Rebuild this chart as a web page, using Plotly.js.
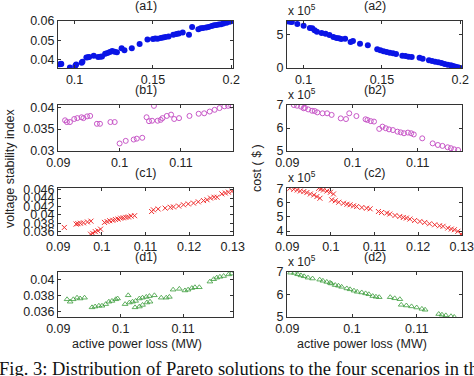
<!DOCTYPE html>
<html><head><meta charset="utf-8">
<script src="https://cdn.plot.ly/plotly-3.0.1.min.js"></script>
<style>body{margin:0;padding:0;background:#fff}#c{width:474px;height:376px}</style>
</head><body><div id="c"></div>
<script>
// (a1) voltage stability index vs loss
const a1x=[0.0905,0.0912,0.0915,0.0970,0.1005,0.1010,0.1045,0.1050,0.1075,0.1085,0.1093,0.1122,0.1150,0.1165,0.1175,0.1195,0.1210,0.1225,0.1240,0.1255,0.1270,0.1300,0.1318,0.1365,0.1415,0.1465,0.1500,0.1515,0.1530,0.1550,0.1565,0.1580,0.1600,0.1630,0.1650,0.1665,0.1690,0.1730,0.1750,0.1790,0.1805,0.1820,0.1840,0.1855,0.1875,0.1890,0.1905,0.1920,0.1935,0.1950,0.1970,0.1990,0.2000];
const a1y=[0.0377,0.0380,0.0378,0.0361,0.0370,0.0376,0.0385,0.0390,0.0412,0.0413,0.0415,0.0421,0.0415,0.0416,0.0417,0.0432,0.0436,0.0441,0.0446,0.0442,0.0439,0.0460,0.0450,0.0460,0.0482,0.0505,0.0507,0.0510,0.0509,0.0513,0.0515,0.0518,0.0521,0.0530,0.0533,0.0536,0.0541,0.0530,0.0570,0.0558,0.0563,0.0565,0.0567,0.0570,0.0575,0.0578,0.0580,0.0582,0.0584,0.0588,0.0592,0.0596,0.0600];
// (a2) cost (x1e5) vs loss
const a2x=[0.0900,0.0908,0.0915,0.0925,0.0960,0.1000,0.1040,0.1055,0.1070,0.1085,0.1115,0.1140,0.1165,0.1190,0.1210,0.1225,0.1240,0.1265,0.1300,0.1315,0.1360,0.1410,0.1470,0.1490,0.1510,0.1530,0.1550,0.1570,0.1590,0.1630,0.1650,0.1670,0.1690,0.1740,0.1760,0.1800,0.1820,0.1840,0.1860,0.1880,0.1900,0.1920,0.1940,0.1955,0.1970,0.1985,0.2000];
const a2y=[7.00,7.00,6.95,6.90,6.60,6.35,6.00,5.95,5.65,5.45,5.25,5.15,4.95,4.65,4.50,4.45,4.35,4.40,3.90,4.05,3.65,3.40,2.80,2.65,2.50,2.40,2.30,2.20,2.10,1.85,1.80,1.70,1.65,1.55,1.40,1.15,1.05,0.95,0.85,0.75,0.60,0.50,0.40,0.30,0.20,0.10,0.00];
// (b1)
const b1x=[0.0911,0.0914,0.0919,0.0926,0.0931,0.0938,0.0941,0.0947,0.0952,0.0963,0.0968,0.0985,0.0992,0.1000,0.1010,0.1023,0.1028,0.1037,0.1044,0.1048,0.1053,0.1056,0.1062,0.1067,0.1070,0.1077,0.1084,0.1089,0.1097,0.1114,0.1129,0.1138,0.1147,0.1155,0.1163,0.1171,0.1177,0.1182];
const b1y=[0.0370,0.0366,0.0366,0.0373,0.0375,0.0377,0.0375,0.0379,0.0380,0.0362,0.0362,0.0366,0.0366,0.0317,0.0323,0.0326,0.0328,0.0330,0.0377,0.0368,0.0369,0.0403,0.0369,0.0371,0.0375,0.0380,0.0383,0.0373,0.0375,0.0380,0.0385,0.0386,0.0390,0.0394,0.0398,0.0402,0.0403,0.0404];
// (b2)
const b2x=[0.0910,0.0915,0.0921,0.0925,0.0927,0.0932,0.0938,0.0942,0.0946,0.0954,0.0961,0.0968,0.0982,0.0990,0.0995,0.1006,0.1020,0.1023,0.1028,0.1033,0.1041,0.1046,0.1051,0.1056,0.1062,0.1069,0.1074,0.1079,0.1085,0.1090,0.1094,0.1107,0.1123,0.1131,0.1138,0.1146,0.1151,0.1156,0.1162];
const b2y=[7.00,6.97,6.93,6.86,6.88,6.81,6.75,6.74,6.68,6.64,6.64,6.57,6.42,6.39,6.64,6.52,6.38,6.35,6.30,6.28,5.96,6.06,5.99,5.94,5.91,5.84,5.81,5.77,5.80,5.77,5.72,5.55,5.33,5.26,5.22,5.16,5.12,5.07,5.04];
// (c1)
const c1x=[0.0914,0.0941,0.0945,0.0951,0.0958,0.0967,0.0975,0.0974,0.0979,0.0985,0.0991,0.0997,0.1006,0.1012,0.1018,0.1025,0.1031,0.1037,0.1043,0.1049,0.1055,0.1061,0.1067,0.1075,0.1114,0.1118,0.1129,0.1145,0.1157,0.1164,0.1176,0.1187,0.1198,0.1210,0.1221,0.1233,0.1241,0.1249,0.1257,0.1264,0.1275,0.1283,0.1290,0.1298];
const c1y=[0.0370,0.0378,0.0379,0.0380,0.0381,0.0383,0.0385,0.0354,0.0356,0.0360,0.0362,0.0366,0.0382,0.0384,0.0386,0.0387,0.0389,0.0390,0.0392,0.0393,0.0394,0.0395,0.0397,0.0398,0.0408,0.0412,0.0414,0.0416,0.0418,0.0419,0.0421,0.0424,0.0426,0.0428,0.0431,0.0434,0.0436,0.0440,0.0442,0.0442,0.0450,0.0452,0.0454,0.0456];
// (c2)
const c2x=[0.0906,0.0915,0.0923,0.0930,0.0938,0.0945,0.0953,0.0961,0.0968,0.0975,0.0972,0.0977,0.0983,0.0991,0.0999,0.1006,0.1002,0.1010,0.1018,0.1029,0.1037,0.1044,0.1052,0.1059,0.1071,0.1082,0.1090,0.1109,0.1116,0.1128,0.1135,0.1147,0.1158,0.1166,0.1173,0.1181,0.1192,0.1204,0.1215,0.1226,0.1238,0.1249,0.1257,0.1268,0.1276,0.1283,0.1291,0.1298];
const c2y=[7.00,6.93,6.88,6.81,6.77,6.70,6.60,6.53,6.42,6.30,7.00,6.95,6.88,6.81,6.72,6.60,6.19,6.12,6.02,5.95,5.88,5.84,5.77,5.72,5.65,5.60,5.56,5.37,5.30,5.26,5.19,5.09,5.02,4.95,4.91,4.84,4.74,4.67,4.60,4.51,4.44,4.37,4.33,4.21,4.14,4.09,3.98,3.79];
// (d1)
const d1x=[0.0914,0.0919,0.0924,0.0930,0.0935,0.0942,0.0954,0.0959,0.0965,0.0970,0.0976,0.0981,0.0986,0.0992,0.0995,0.1012,0.1007,0.1014,0.1019,0.1024,0.1030,0.1035,0.1041,0.1046,0.1054,0.1023,0.1030,0.1035,0.1042,0.1047,0.1065,0.1073,0.1078,0.1084,0.1094,0.1103,0.1108,0.1114,0.1119,0.1126,0.1143,0.1149,0.1154,0.1159,0.1165,0.1173,0.1178];
const d1y=[0.0375,0.0372,0.0375,0.0377,0.0376,0.0377,0.0365,0.0366,0.0367,0.0367,0.0369,0.0372,0.0373,0.0375,0.0376,0.0380,0.0369,0.0371,0.0372,0.0373,0.0376,0.0377,0.0378,0.0379,0.0380,0.0365,0.0366,0.0368,0.0371,0.0372,0.0377,0.0377,0.0378,0.0387,0.0388,0.0386,0.0387,0.0389,0.0390,0.0390,0.0397,0.0400,0.0402,0.0403,0.0404,0.0406,0.0407];
// (d2)
const d2x=[0.0905,0.0911,0.0916,0.0921,0.0926,0.0932,0.0939,0.0950,0.0955,0.0961,0.0966,0.0968,0.0974,0.0979,0.0984,0.0992,0.0997,0.1003,0.1008,0.1015,0.1021,0.1026,0.1032,0.1037,0.1042,0.1059,0.1066,0.1074,0.1076,0.1084,0.1092,0.1100,0.1108,0.1113,0.1134,0.1139,0.1145,0.1153,0.1158];
const d2y=[6.97,6.96,6.90,6.85,6.81,6.75,6.71,6.66,6.61,6.56,6.52,6.49,6.42,6.39,6.34,6.27,6.23,6.17,6.12,6.09,6.05,6.01,5.93,5.90,5.88,5.88,5.83,5.79,5.54,5.51,5.47,5.42,5.36,5.32,5.13,5.10,5.07,5.03,5.00];

const panelTitles=['(a1)','(a2)','(b1)','(b2)','(c1)','(c2)','(d1)','(d2)'];
const xTicks=[[0.1,0.15,0.2],[0.1,0.15,0.2],[0.09,0.1,0.11],[0.09,0.1,0.11],[0.09,0.1,0.11,0.12,0.13],[0.09,0.1,0.11,0.12,0.13],[0.09,0.1,0.11],[0.09,0.1,0.11]];
const yTicks=[[0.04,0.05,0.06],[0,5],[0.03,0.035,0.04],[5,6,7],[0.036,0.038,0.04,0.042,0.044,0.046],[4,5,6,7],[0.036,0.038,0.04],[5,6,7]];
const xLabel='active power loss (MW)';
const yLabelLeft='voltage stability index';
const yLabelRight='cost (＄)';
const caption='Fig. 3: Distribution of Pareto solutions to the four scenarios in the';

const W=474,H=376;
const px=x=>x/W, py=y=>1-y/H;
const colX=[[58,233],[287,462]];
const rowY=[[21,68],[105,151],[188,235],[272,317]];
const xRanges=[[0.0894,0.2011],[0.0894,0.2011],[0.08995,0.1185],[0.08995,0.1168],[0.08995,0.13005],[0.08995,0.13005],[0.08995,0.118],[0.08995,0.117]];
const yRanges=[[0.0358,0.06005],[-0.003,7.05],[0.02998,0.0405],[4.998,7.002],[0.0352,0.0464],[3.72,7.02],[0.0353,0.0409],[4.998,7.002]];

const xs=[a1x,a2x,b1x,b2x,c1x,c2x,d1x,d2x];
const ys=[a1y,a2y,b1y,b2y,c1y,c2y,d1y,d2y];
const markers=[
 {symbol:'circle',size:6,color:'#0a14e6'},
 {symbol:'circle',size:6,color:'#0a14e6'},
 {symbol:'circle-open',size:5,color:'#c858c8',line:{width:1}},
 {symbol:'circle-open',size:5,color:'#c858c8',line:{width:1}},
 {symbol:'x-thin-open',size:5,color:'#f03030',line:{width:1,color:'#f03030'}},
 {symbol:'x-thin-open',size:5,color:'#f03030',line:{width:1,color:'#f03030'}},
 {symbol:'triangle-up-open',size:5,color:'#3a9c3a',line:{width:0.8}},
 {symbol:'triangle-up-open',size:5,color:'#3a9c3a',line:{width:0.8}}
];

const data=[],layout={width:W,height:H,margin:{l:0,r:0,t:0,b:0},paper_bgcolor:'#fff',plot_bgcolor:'#fff',showlegend:false,
 font:{family:'Liberation Sans, Arial, sans-serif',size:12.5,color:'#222'},annotations:[]};
for(let i=0;i<8;i++){
  const c=i%2,r=Math.floor(i/2),n=i+1;
  const xa='x'+(n===1?'':n), ya='y'+(n===1?'':n);
  data.push({type:'scatter',mode:'markers',x:xs[i],y:ys[i],xaxis:xa,yaxis:ya,marker:markers[i],cliponaxis:true,hoverinfo:'skip'});
  const common={showgrid:false,zeroline:false,showline:true,linecolor:'#333',linewidth:1,mirror:'ticks',ticks:'inside',ticklen:3,tickwidth:1,tickcolor:'#333',tickfont:{size:12.5,color:'#222'}};
  layout['xaxis'+(n===1?'':n)]=Object.assign({},common,{domain:[px(colX[c][0]),px(colX[c][1])],range:xRanges[i],anchor:ya,tickmode:'array',tickvals:xTicks[i],ticktext:xTicks[i].map(String)});
  layout['yaxis'+(n===1?'':n)]=Object.assign({},common,{domain:[py(rowY[r][1]),py(rowY[r][0])],range:yRanges[i],anchor:xa,tickmode:'array',tickvals:yTicks[i],ticktext:yTicks[i].map(String)});
  layout.annotations.push({xref:'paper',yref:'paper',x:px((colX[c][0]+colX[c][1])/2),y:py(rowY[r][0]-6),xanchor:'center',yanchor:'bottom',text:panelTitles[i],showarrow:false,font:{size:12.5,color:'#222'}});
  if(c===1){
    layout.annotations.push({xref:'paper',yref:'paper',x:px(colX[c][0]-1),y:py(rowY[r][0]-1),xanchor:'left',yanchor:'bottom',text:'x 10<sup>5</sup>',showarrow:false,font:{size:12,color:'#222'}});
  }
}
layout.annotations.push({xref:'paper',yref:'paper',x:px(137),y:py(344),xanchor:'center',yanchor:'middle',text:xLabel,showarrow:false,font:{size:12.5,color:'#222'}});
layout.annotations.push({xref:'paper',yref:'paper',x:px(362),y:py(344),xanchor:'center',yanchor:'middle',text:xLabel,showarrow:false,font:{size:12.5,color:'#222'}});
layout.annotations.push({xref:'paper',yref:'paper',x:px(10),y:py(168),xanchor:'center',yanchor:'middle',textangle:-90,text:yLabelLeft,showarrow:false,font:{size:12.5,color:'#222'}});
layout.annotations.push({xref:'paper',yref:'paper',x:px(257),y:py(168),xanchor:'center',yanchor:'middle',textangle:-90,text:yLabelRight,showarrow:false,font:{size:12.5,color:'#222'}});
layout.annotations.push({xref:'paper',yref:'paper',x:px(-3),y:py(357),xanchor:'left',yanchor:'top',text:caption,showarrow:false,font:{family:'Liberation Serif, Times New Roman, serif',size:18.5,color:'#111'}});
Plotly.newPlot('c',data,layout,{staticPlot:true,displayModeBar:false});
</script></body></html>
